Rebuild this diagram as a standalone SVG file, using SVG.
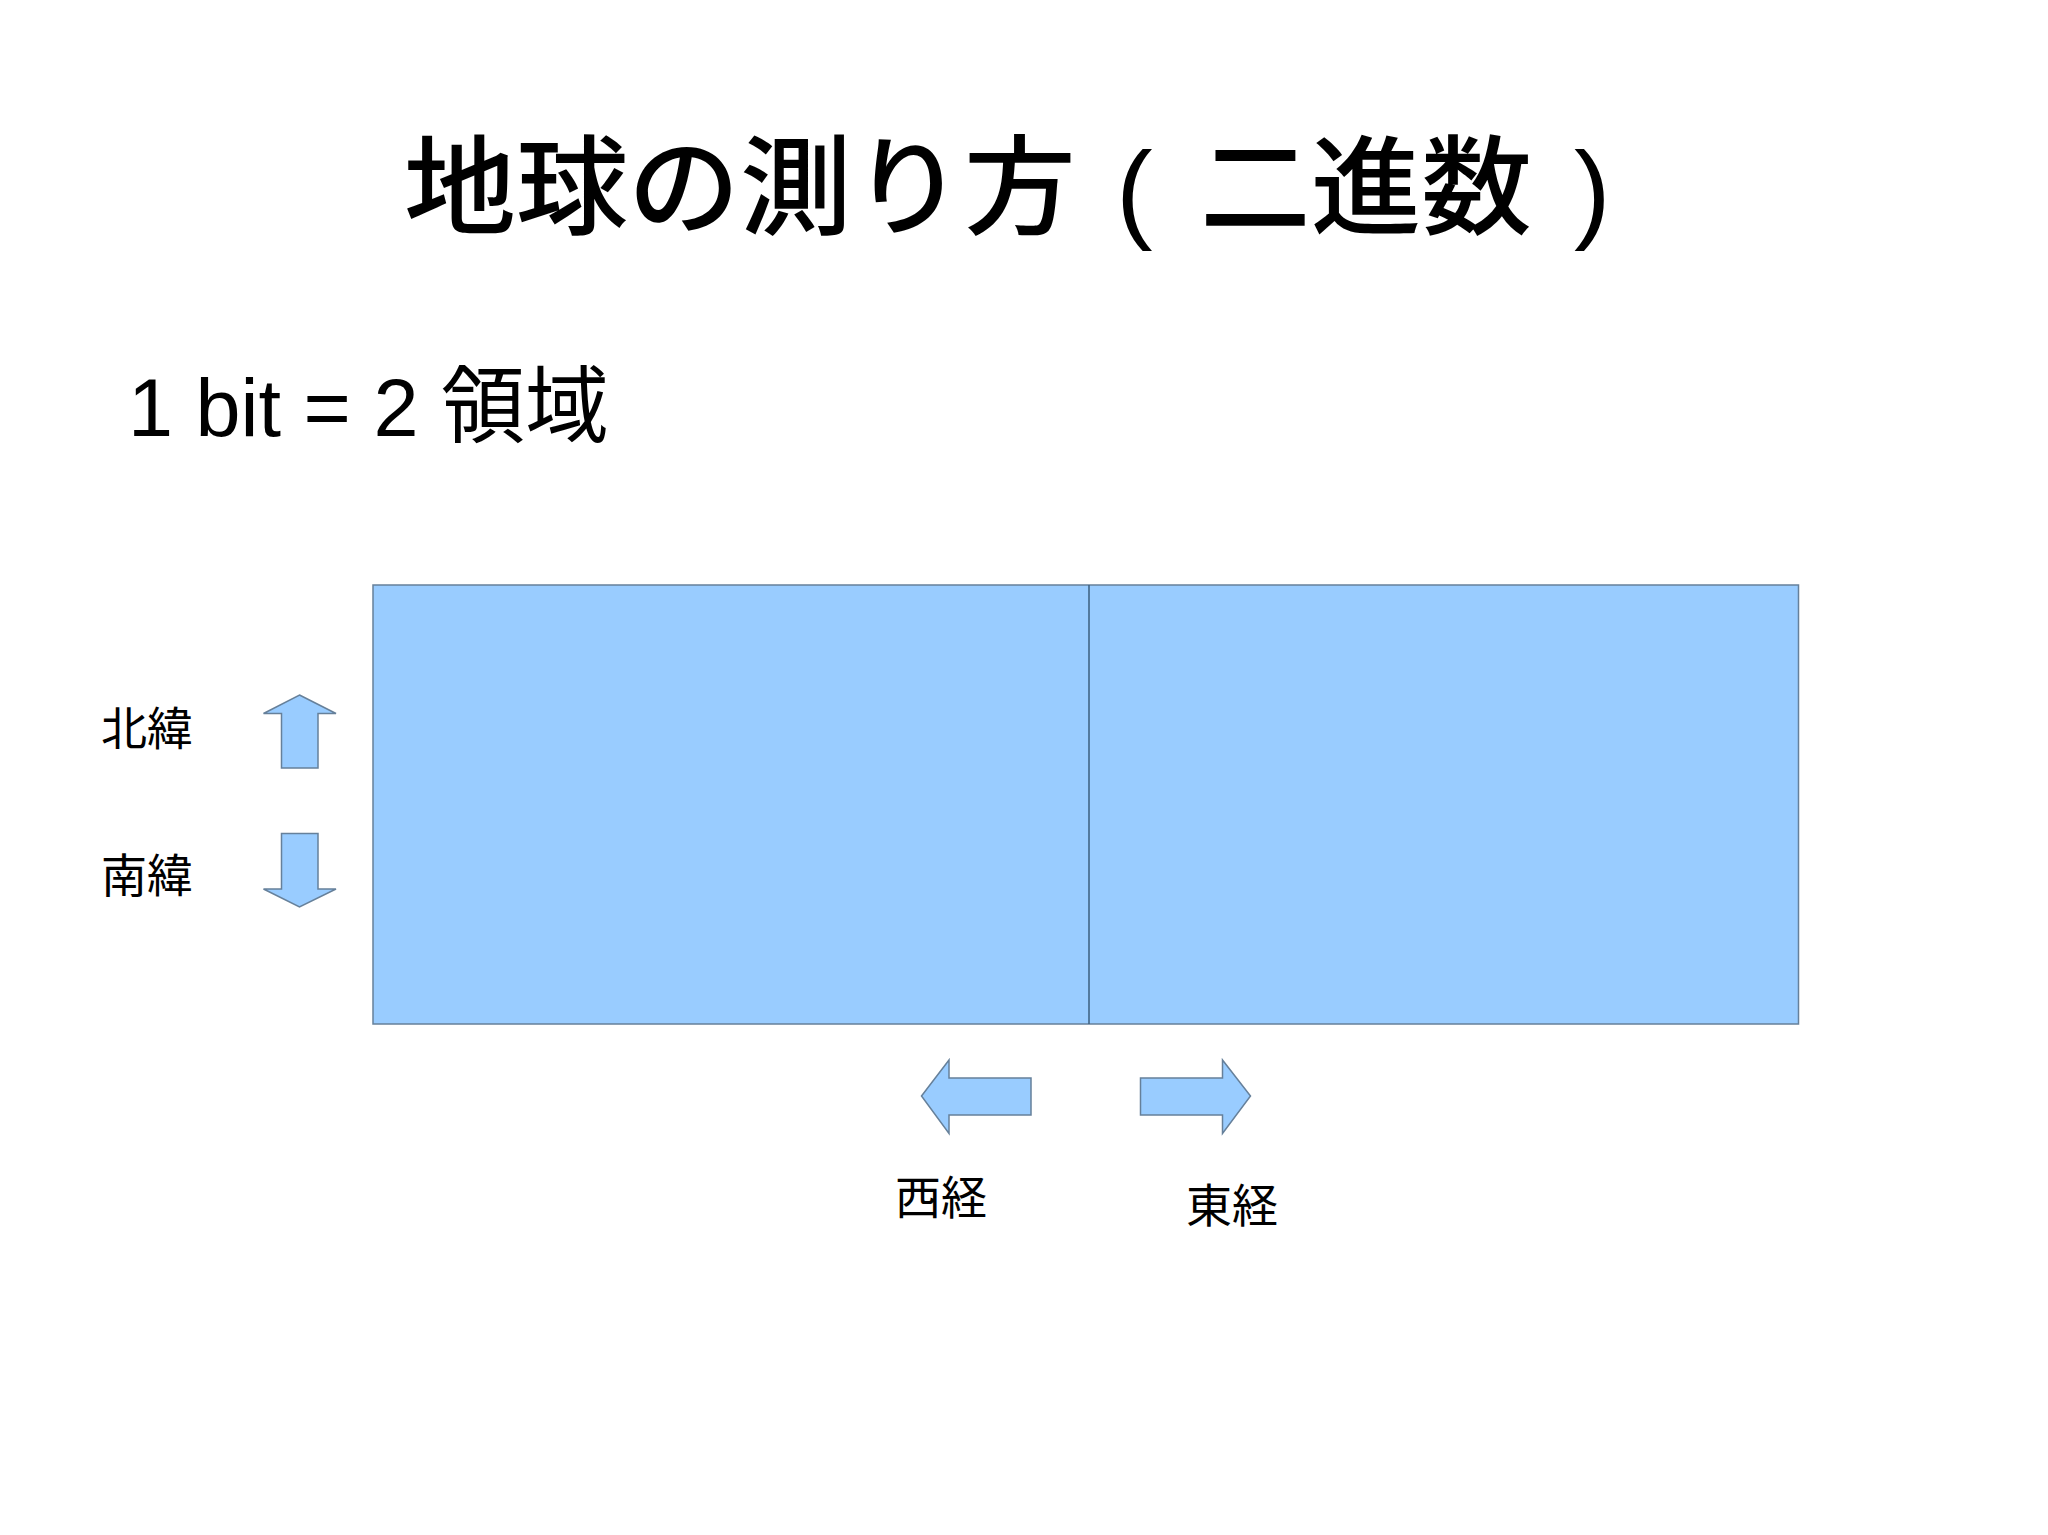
<svg xmlns="http://www.w3.org/2000/svg" width="2048" height="1535" viewBox="0 0 2048 1535">
<style>
.cjk{font-family:"Noto Sans CJK JP","Noto Sans CJK SC",sans-serif;fill:#000}
.lat{font-family:"Liberation Sans",Arial,sans-serif;fill:#000}
.shape{fill:#99ccff;stroke:#66809a;stroke-width:1.5}
.lbl{font-family:"Noto Sans CJK JP",sans-serif;font-size:46px;fill:#000}
</style>
<rect width="2048" height="1535" fill="#ffffff"/>
<g id="title">
<text class="cjk" x="404" y="226" font-size="108" font-weight="500" textLength="672" lengthAdjust="spacingAndGlyphs">地球の測り方</text>
<text class="lat" x="1116" y="228" font-size="110">(</text>
<text class="cjk" x="1200" y="226" font-size="108" font-weight="500" textLength="332" lengthAdjust="spacingAndGlyphs">二進数</text>
<text class="lat" x="1574" y="228" font-size="110">)</text>
</g>
<g id="subtitle">
<text class="lat" x="128" y="436" font-size="81">1 bit = 2 <tspan class="cjk" font-size="84">領域</tspan></text>
</g>
<g id="map">
<rect class="shape" x="373" y="585" width="1425.5" height="439" stroke="#6a7588"/>
</g>
<g id="connectors">
<line x1="1089" y1="585" x2="1089" y2="1024" stroke="#3d5f7e" stroke-width="1.5"/>
</g>
<g id="arrow-north">
<polygon class="shape" points="299.5,695 336,713.5 318,713.5 318,768 281.5,768 281.5,713.5 263.5,713.5"/>
<text class="lbl" x="101" y="745">北緯</text>
</g>
<g id="arrow-south">
<polygon class="shape" points="281.5,833.5 318,833.5 318,889 336,889 299.5,907 263.5,889 281.5,889"/>
<text class="lbl" x="101" y="892">南緯</text>
</g>
<g id="arrow-west">
<polygon class="shape" points="921.5,1096 949,1060 949,1078 1031,1078 1031,1115 949,1115 949,1133.5"/>
<text class="lbl" x="895" y="1214">西経</text>
</g>
<g id="arrow-east">
<polygon class="shape" points="1140.5,1078 1222.5,1078 1222.5,1060 1250.5,1096 1222.5,1133.5 1222.5,1115 1140.5,1115"/>
<text class="lbl" x="1186" y="1222">東経</text>
</g>
</svg>
